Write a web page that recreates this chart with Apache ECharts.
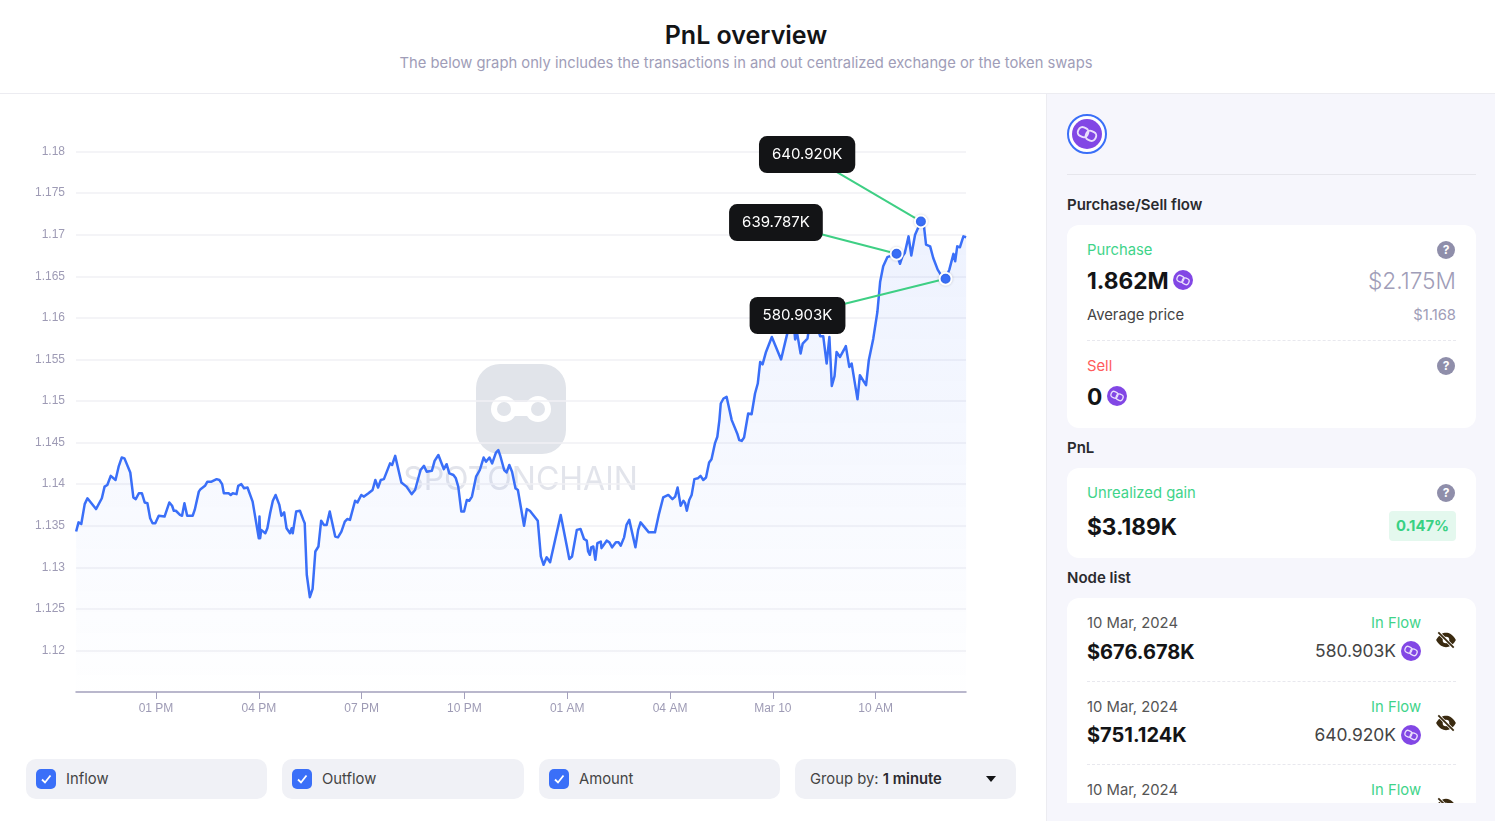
<!DOCTYPE html>
<html>
<head>
<meta charset="utf-8">
<title>PnL overview</title>
<script src="https://cdn.jsdelivr.net/npm/echarts@6/dist/echarts.min.js"></script>
<style>
html,body{margin:0;padding:0;width:1495px;height:821px;overflow:hidden;background:#fff;font-family:Inter,sans-serif;color:#131416}
.box{position:absolute}
.t{position:absolute;white-space:nowrap;transform:translateY(-50%);line-height:1.2}
.r{transform:translate(-100%,-50%)}
.c{transform:translate(-50%,-50%)}
.card{position:absolute;left:1067px;width:409px;background:#fff;border-radius:12px}
.dash{position:absolute;left:1087px;width:369px;border-top:1px dashed #e8e8ee}
.ctl{position:absolute;top:759px;height:40px;background:#f0f1f6;border-radius:10px}
.chk{position:absolute;left:10px;top:10px;width:20px;height:20px;background:#3a6ff8;border-radius:5px}
.q{position:absolute;width:18px;height:18px;border-radius:50%;background:#8f8eaa;color:#fff;font-size:12px;font-weight:700;line-height:18px;text-align:center}
svg.ic{position:absolute}
</style>
</head>
<body>
<div class="box" style="left:0;top:0;width:1495px;height:93px;border-bottom:1px solid #ececf1"></div>
<div class="box" style="left:1046px;top:94px;width:449px;height:727px;background:#f6f6fc;border-left:1px solid #ececf1;box-sizing:border-box"></div>
<div class="box" style="left:1067px;top:174px;width:409px;border-top:1px solid #e6e6ec"></div>
<div class="card" style="top:225px;height:203px"></div>
<div class="card" style="top:468px;height:90px"></div>
<div class="box" style="left:1067px;top:598px;width:409px;height:205px;overflow:hidden;background:#fff;border-radius:12px 12px 0 0" id="nodeCard"></div>
<div id="chart" class="box" style="left:0;top:94px;width:1046px;height:650px"></div>
<div id="ui"></div>
<script>
// price line (hours counted from 00:00 on Mar 9)
var hours = [10.67,10.74,10.82,10.92,11.00,11.25,11.42,11.50,11.58,11.68,11.82,11.91,12.00,12.08,12.25,12.34,12.41,12.50,12.59,12.67,12.75,12.83,12.90,12.98,13.08,13.25,13.39,13.47,13.52,13.58,13.70,13.76,13.83,13.91,14.07,14.13,14.25,14.30,14.43,14.50,14.62,14.67,14.77,14.85,14.93,14.98,15.12,15.18,15.24,15.35,15.40,15.49,15.57,15.67,15.82,16.00,16.02,16.04,16.07,16.19,16.25,16.33,16.41,16.49,16.60,16.66,16.74,16.81,16.91,16.96,16.99,17.09,17.20,17.30,17.34,17.40,17.49,17.57,17.65,17.74,17.82,17.90,17.98,18.07,18.23,18.31,18.41,18.51,18.58,18.66,18.81,18.88,18.99,19.07,19.20,
  19.25,19.32,19.40,19.48,19.56,19.65,19.83,19.89,19.98,20.16,20.31,20.46,20.56,20.72,20.82,20.90,21.05,21.13,21.24,21.40,21.48,21.56,21.68,21.75,21.82,21.91,21.99,22.07,22.14,22.22,22.34,22.45,22.56,22.63,22.73,22.81,22.92,22.99,23.04,23.09,23.16,23.23,23.31,23.39,23.49,23.56,23.74,23.82,23.91,24.14,24.23,24.31,24.40,24.50,24.81,24.98,25.06,25.14,25.28,25.39,25.49,25.57,25.61,25.66,25.70,25.76,25.82,25.88,25.98,26.00,26.15,26.23,26.31,26.42,26.50,26.56,26.66,26.73,26.81,26.99,27.07,27.14,27.38,27.56,27.67,
  27.80,27.95,28.07,28.15,28.22,28.31,28.39,28.44,28.49,28.56,28.63,28.71,28.81,28.89,28.97,29.05,29.14,29.21,29.31,29.38,29.44,29.48,29.56,29.65,29.80,29.96,30.02,30.09,30.16,30.28,30.38,30.48,30.56,30.63,30.70,30.80,30.97,31.24,31.35,31.42,31.52,31.62,31.65,31.71,31.81,31.87,32.01,32.06,32.28,32.38,32.47,32.57,32.65,32.72,32.80,32.86,32.96,33.08,33.13,33.23,33.30,33.47,33.54,33.72,33.80,33.93,34.05,34.13,34.22,34.34,34.61,34.71,34.78,34.85,34.96,35.04,35.15,35.32,35.41,35.47,35.59,35.68,35.81,35.93,36.04,36.15,36.27,36.32,36.38,36.46,36.56,36.64];
var prices = [1.1343,1.1354,1.1352,1.1376,1.1383,1.1370,1.1383,1.1397,1.1399,1.1410,1.1405,1.1421,1.1432,1.1431,1.1414,1.1384,1.1382,1.1389,1.1389,1.1378,1.1377,1.1359,1.1353,1.1353,1.1362,1.1361,1.1378,1.1374,1.1368,1.1368,1.1363,1.1362,1.1377,1.1362,1.1362,1.1369,1.1391,1.1394,1.1398,1.1403,1.1403,1.1401,1.1406,1.1405,1.1400,1.1389,1.1389,1.1387,1.1389,1.1388,1.1398,1.1400,1.1395,1.1396,1.1379,1.1335,1.1361,1.1335,1.1345,1.1341,1.1347,1.1365,1.1380,1.1387,1.1375,1.1362,1.1366,1.1347,1.1341,1.1347,1.1341,1.1367,1.1368,1.1357,1.1353,1.1291,1.1264,1.1274,1.1319,1.1325,1.1356,1.1351,1.1351,1.1367,1.1337,1.1336,1.1343,1.1355,1.1358,1.1357,1.1380,1.1378,1.1387,1.1385,1.1389,
  1.1387,1.1393,1.1405,1.1396,1.1405,1.1406,1.1425,1.1423,1.1434,1.1402,1.1397,1.1388,1.1393,1.1417,1.1422,1.1415,1.1416,1.1428,1.1435,1.1418,1.1424,1.1413,1.1411,1.1407,1.1397,1.1367,1.1367,1.1381,1.1380,1.1385,1.1409,1.1417,1.1432,1.1427,1.1432,1.1425,1.1438,1.1441,1.1435,1.1435,1.1417,1.1414,1.1423,1.1415,1.1395,1.1393,1.1350,1.1370,1.1368,1.1356,1.1313,1.1303,1.1312,1.1306,1.1363,1.1327,1.1310,1.1313,1.1345,1.1346,1.1334,1.1332,1.1319,1.1315,1.1324,1.1325,1.1309,1.1329,1.1331,1.1323,1.1332,1.1330,1.1324,1.1330,1.1330,1.1326,1.1336,1.1351,1.1357,1.1324,1.1345,1.1354,1.1342,1.1342,1.1363,
  1.1384,1.1387,1.1382,1.1385,1.1396,1.1374,1.1380,1.1377,1.1368,1.1381,1.1387,1.1406,1.1407,1.1410,1.1405,1.1408,1.1426,1.1430,1.1449,1.1457,1.1477,1.1497,1.1503,1.1505,1.1477,1.1461,1.1453,1.1452,1.1456,1.1485,1.1484,1.1509,1.1521,1.1547,1.1544,1.1559,1.1577,1.1550,1.1569,1.1581,1.1591,1.1589,1.1574,1.1581,1.1557,1.1569,1.1575,1.1589,1.1591,1.1578,1.1578,1.1545,1.1577,1.1518,1.1530,1.1559,1.1553,1.1562,1.1566,1.1541,1.1545,1.1502,1.1531,1.1519,1.1549,1.1575,1.1607,1.1643,1.1662,1.1673,1.1677,1.1665,1.1674,1.1678,1.1698,1.1675,1.1700,1.1716,1.1710,1.1688,1.1686,1.1672,1.1658,1.1650,1.1647,1.1658,1.1677,1.1668,1.1686,1.1685,1.1698,1.1697];

// tagged nodes and where their tags sit on the chart
var nodeHours = [34.61, 35.32, 36.04];
var nodePrices = [1.1677, 1.1716, 1.1647];
var nodeAmounts = ['639.787K', '640.920K', '580.903K'];
var tagHours = [31.09, 32.00, 31.72];
var tagPrices = [1.17146, 1.17964, 1.16028];

var tickHours = [13, 16, 19, 22, 25, 28, 31, 34];
var tickLabels = ['01 PM', '04 PM', '07 PM', '10 PM', '01 AM', '04 AM', 'Mar 10', '10 AM'];

var lineData = hours.map(function (h, i) { return [h, prices[i]]; });
var nodeData = nodeHours.map(function (h, i) { return [h, nodePrices[i]]; });
var tagData = tagHours.map(function (h, i) { return [h, tagPrices[i]]; });

var seriesList = [
    {
        type: 'line',
        data: lineData,
        showSymbol: false,
        silent: true,
        lineStyle: {color: '#3a6ff8', width: 2.5, join: 'round'},
        itemStyle: {color: '#3a6ff8'},
        areaStyle: {
            color: new echarts.graphic.LinearGradient(0, 0, 0, 1, [
                {offset: 0, color: 'rgba(58,111,248,0.13)'},
                {offset: 1, color: 'rgba(58,111,248,0.005)'}
            ])
        }
    }
];
// connector from each tag to its node
nodeData.forEach(function (n, i) {
    seriesList.push({
        type: 'line',
        data: [tagData[i], n],
        z: 4,
        showSymbol: false,
        silent: true,
        lineStyle: {color: '#3ecf84', width: 2}
    });
});
seriesList.push({
    type: 'scatter',
    data: nodeData,
    z: 5,
    symbolSize: 12,
    itemStyle: {opacity: 1, color: '#3a6ff8', borderColor: '#fff', borderWidth: 2, shadowBlur: 3, shadowColor: 'rgba(0,0,0,0.15)'}
});
seriesList.push({
    type: 'scatter',
    data: tagData,
    z: 6,
    symbolSize: 1,
    itemStyle: {opacity: 1, color: 'rgba(0,0,0,0)'},
    label: {
        show: true,
        position: 'inside',
        formatter: function (p) { return nodeAmounts[p.dataIndex]; },
        color: '#fff',
        fontSize: 15,
        lineHeight: 17,
        padding: [10, 13],
        backgroundColor: '#131416',
        borderRadius: 8
    }
});

var myChart = echarts.init(document.getElementById('chart'));
myChart.setOption({
    animation: false,
    textStyle: {fontFamily: 'Inter'},
    grid: {left: 76, right: 80, top: 16, bottom: 52},
    graphic: {
        elements: [
            {type: 'rect', shape: {x: 476, y: 270, width: 90, height: 90, r: 24}, style: {fill: '#e1e4ea'}, silent: true},
            {type: 'rect', shape: {x: 504, y: 308, width: 34, height: 14}, style: {fill: '#fff'}, silent: true},
            {type: 'circle', shape: {cx: 504, cy: 315, r: 13}, style: {fill: '#fff'}, silent: true},
            {type: 'circle', shape: {cx: 538, cy: 315, r: 13}, style: {fill: '#fff'}, silent: true},
            {type: 'circle', shape: {cx: 504, cy: 315, r: 7}, style: {fill: '#e1e4ea'}, silent: true},
            {type: 'circle', shape: {cx: 538, cy: 315, r: 7}, style: {fill: '#e1e4ea'}, silent: true},
            {type: 'text', x: 520.5, y: 386.5, silent: true, style: {
                text: 'SPOTONCHAIN', fill: '#e2e4eb', font: '400 32px Inter',
                textAlign: 'center', textVerticalAlign: 'middle'
            }}
        ]
    },
    xAxis: {
        type: 'value',
        min: 10.666,
        max: 36.636,
        splitLine: {show: false},
        axisLine: {onZero: false, lineStyle: {color: '#a3a0bc', width: 1.5}},
        axisTick: {length: 7, lineStyle: {color: '#a3a0bc'}, customValues: tickHours},
        axisLabel: {
            color: '#9e9bb5', fontSize: 12, fontFamily: 'Liberation Sans', margin: 11,
            customValues: tickHours,
            formatter: function (v) { return tickLabels[tickHours.indexOf(v)]; }
        }
    },
    yAxis: {
        type: 'value',
        min: 1.115,
        max: 1.185,
        interval: 0.005,
        axisLine: {show: false, onZero: false},
        axisTick: {show: false},
        axisLabel: {color: '#9e9bb5', fontSize: 12, fontFamily: 'Liberation Sans', margin: 11, padding: [2, 0, 0, 0], showMinLabel: false, showMaxLabel: false},
        splitLine: {showMinLine: false, showMaxLine: false, lineStyle: {color: '#f1f1f5', width: 1.5}}
    },
    series: seriesList
});

// side panel and controls are plain page text
var ui = document.getElementById('ui');
function txt(x, y, s, css, cls) {
    var d = document.createElement('div');
    d.className = 't ' + (cls || '');
    d.style.cssText = 'left:' + x + 'px;top:' + y + 'px;' + (css || '');
    d.innerHTML = s;
    ui.appendChild(d);
    return d;
}
function maticSvg(cx, cy, r) {
    return '<svg class="ic" style="left:' + (cx - r) + 'px;top:' + (cy - r) + 'px" width="' + 2 * r + '" height="' + 2 * r + '" viewBox="0 0 20 20">' +
        '<circle cx="10" cy="10" r="10" fill="#8247e5"/>' +
        '<g fill="none" stroke="#e9defc" stroke-width="1.3"><rect x="4" y="5.6" width="6.8" height="6.2" rx="2.6" transform="rotate(25 7.2 8.7)"/><rect x="9.2" y="8.2" width="6.8" height="6.2" rx="2.6" transform="rotate(25 12.8 11.3)"/></g></svg>';
}
function eyeSvg(cx, cy) {
    return '<svg class="ic" style="left:' + (cx - 11) + 'px;top:' + (cy - 11) + 'px" width="22" height="22" viewBox="0 0 20 20">' +
        '<path d="M1 10 C4 5 7 3.5 10 3.5 C13 3.5 16 5 19 10 C16 15 13 16.5 10 16.5 C7 16.5 4 15 1 10Z" fill="#3a2a10"/>' +
        '<circle cx="10" cy="10" r="3" fill="#fff"/><path d="M3 3 L17 17" stroke="#fff" stroke-width="3"/><path d="M3 3 L17 17" stroke="#3a2a10" stroke-width="1.6"/></svg>';
}
function html(s) { ui.insertAdjacentHTML('beforeend', s); }
function q(cx, cy) { html('<div class="q" style="left:' + (cx - 9) + 'px;top:' + (cy - 9) + 'px">?</div>'); }
function dash(y) { html('<div class="dash" style="top:' + y + 'px"></div>'); }

var GREEN = 'color:#3fd48a;font-size:14.8px;';
var HEAD = 'font-size:15px;font-weight:600;color:#2a2a2e;';
var BIG = 'font-size:22.7px;font-weight:700;color:#131416;';
var NODE = 'font-size:20px;font-weight:700;';
var AMT = 'font-size:17.4px;color:#444;';
var DATE = 'font-size:14.8px;color:#555;';
var MUTED = 'color:#a09db8;';

txt(746, 35, 'PnL overview', 'font-size:25px;font-weight:600;', 'c');
txt(746, 63.5, 'The below graph only includes the transactions in and out centralized exchange or the token swaps', 'font-size:14.75px;' + MUTED, 'c');

html('<div class="box" style="left:1067px;top:114px;width:40px;height:40px;border-radius:50%;border:2px solid #3a6ff8;box-sizing:border-box;background:#fff"></div>');
html(maticSvg(1087, 134, 15));

txt(1067, 205, 'Purchase/Sell flow', HEAD);
txt(1087, 251, 'Purchase', GREEN);
q(1446, 250);
txt(1087, 280.5, '1.862M', BIG);
html(maticSvg(1183, 280, 10));
txt(1456, 280.5, '$2.175M', 'font-size:22.7px;font-weight:300;' + MUTED, 'r');
txt(1087, 316, 'Average price', 'font-size:14.8px;color:#444;');
txt(1456, 316, '$1.168', 'font-size:14.8px;' + MUTED, 'r');
dash(340);
txt(1087, 367, 'Sell', 'font-size:14.8px;color:#ff5c5c;');
q(1446, 366);
txt(1087, 396.5, '0', BIG);
html(maticSvg(1117, 396, 10));

txt(1067, 448, 'PnL', HEAD);
txt(1087, 494, 'Unrealized gain', GREEN);
q(1446, 493);
txt(1087, 526.5, '$3.189K', BIG);
html('<div class="box" style="left:1389px;top:511px;width:67px;height:30px;background:#e4f8ee;border-radius:4px"></div>');
txt(1422.5, 527, '0.147%', 'font-size:14.8px;font-weight:700;color:#38d183;', 'c');

txt(1067, 578, 'Node list', HEAD);
txt(1087, 624, '10 Mar, 2024', DATE);
txt(1421, 624, 'In Flow', GREEN, 'r');
txt(1087, 651.5, '$676.678K', NODE);
txt(1396, 651, '580.903K', AMT, 'r');
html(maticSvg(1411, 651, 10));
html(eyeSvg(1446, 640));
dash(681);
txt(1087, 708, '10 Mar, 2024', DATE);
txt(1421, 708, 'In Flow', GREEN, 'r');
txt(1087, 734.5, '$751.124K', NODE);
txt(1396, 735, '640.920K', AMT, 'r');
html(maticSvg(1411, 735, 10));
html(eyeSvg(1446, 723));
dash(764);
txt(1087, 791, '10 Mar, 2024', DATE);
txt(1421, 791, 'In Flow', GREEN, 'r');
html('<div class="box" style="left:1435px;top:797px;width:22px;height:6px;overflow:hidden">' + eyeSvg(11, 9) + '</div>');

var CHECK = '<svg class="ic" style="left:0;top:0" width="20" height="20" viewBox="0 0 20 20"><path d="M6 10.5 L9 13.5 L14.5 6.5" fill="none" stroke="#fff" stroke-width="1.8"/></svg>';
[[26, 241, 'Inflow'], [282, 242, 'Outflow'], [539, 241, 'Amount']].forEach(function (c) {
    html('<div class="ctl" style="left:' + c[0] + 'px;width:' + c[1] + 'px"><div class="chk">' + CHECK + '</div></div>');
    txt(c[0] + 40, 780, c[2], 'font-size:14.8px;color:#444;');
});
html('<div class="ctl" style="left:795px;width:221px"></div>');
txt(810, 780, 'Group by: <b style="font-weight:600;color:#2a2a2e">1 minute</b>', 'font-size:14.8px;color:#444;');
html('<svg class="ic" style="left:986px;top:776px" width="10" height="6"><path d="M0 0H10L5 6Z" fill="#131416"/></svg>');
</script>
</body>
</html>
